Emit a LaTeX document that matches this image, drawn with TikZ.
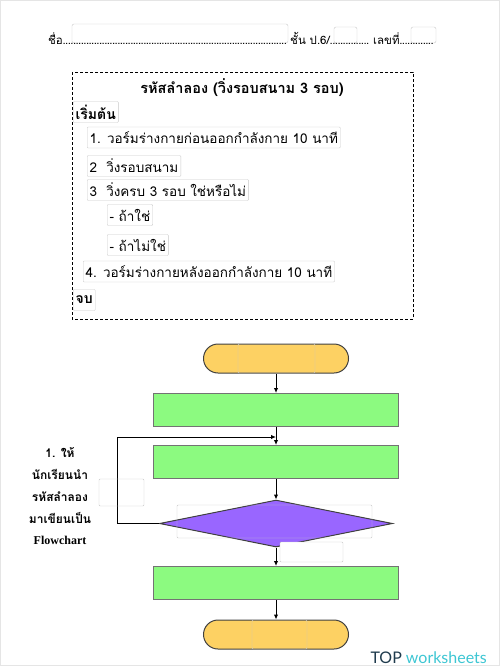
\documentclass[tikz,border=0pt]{standalone}
\usepackage{fontspec}
\setmainfont{Liberation Serif}
\newfontfamily\thai[Script=Thai]{Loma}
\newfontfamily\brand{Lato}
\usetikzlibrary{shapes.geometric,arrows.meta}

\definecolor{termyellow}{HTML}{FDD163}
\definecolor{procgreen}{HTML}{8CFA80}
\definecolor{decpurple}{HTML}{9966FF}
\definecolor{boxgray}{HTML}{C8C8C8}
\definecolor{topdark}{HTML}{1F3B4D}
\definecolor{topcyan}{HTML}{3EC6D3}

\newcommand{\dotrun}[1]{\makebox[#1]{\leaders\hbox to 2.6pt{\hss.\hss}\hfill}}

\tikzset{
  field/.style={draw=boxgray, rounded corners=2pt},
  item/.style={draw=boxgray, rounded corners=1pt, anchor=west, inner sep=2.5pt,
    minimum height=21pt, font=\thai\fontsize{13.5}{15}\selectfont},
  term/.style={draw=black!75, fill=termyellow, rounded corners=14.5pt,
    minimum width=145pt, minimum height=29pt, line width=1pt},
  proc/.style={draw=black!55, fill=procgreen, minimum width=245pt,
    minimum height=33pt, line width=1pt},
  dec/.style={diamond, draw=black!75, fill=decpurple, minimum width=233pt,
    minimum height=47pt, inner sep=0pt, line width=1pt},
  flow/.style={-{Latex[length=5pt,width=4.5pt]}, line width=1pt},
}

\begin{document}
\begin{tikzpicture}[x=1pt,y=-1pt]
\useasboundingbox (0,0) rectangle (500,666);
\draw[gray!20] (0.5,0.5) rectangle (499.5,665.5);

% header
\draw[field] (72,24) rectangle (288,43);
\draw[field] (334,27) rectangle (357,43);
\draw[field] (411,27) rectangle (436,43);
\node[anchor=base west, inner sep=0pt, font=\thai\fontsize{11.5}{13}\selectfont] (name) at (48,45) {ชื่อ\dotrun{224pt}};
\node[anchor=base west, inner sep=0pt, font=\thai\fontsize{11.5}{13}\selectfont] (class) at (290,45) {ชั้น ป.6/\dotrun{40pt}};
\node[anchor=base west, inner sep=0pt, font=\thai\fontsize{11.5}{13}\selectfont] (number) at (373,45) {เลขที่\dotrun{36pt}};

% pseudo code
\draw[dashed, dash pattern=on 3pt off 2pt, line width=0.9pt] (72,72) rectangle (413,319);
\node[font=\thai\bfseries\fontsize{14.5}{16}\selectfont] (title) at (242,88) {รหัสลำลอง (วิ่งรอบสนาม 3 รอบ)};
\node[item, font=\thai\bfseries\fontsize{14}{16}\selectfont] (begin) at (73,112) {เริ่มต้น};
\node[item] (s1) at (87,137.5) {1. วอร์มร่างกายก่อนออกกำลังกาย 10 นาที};
\node[item] (s2) at (87,166) {2\ \ วิ่งรอบสนาม};
\node[item] (s3) at (87,190) {3\ \ วิ่งครบ 3 รอบ ใช่หรือไม่};
\node[item] (yes) at (107,215) {- ถ้าใช่};
\node[item] (no) at (107,245) {- ถ้าไม่ใช่};
\node[item] (s4) at (83,271.5) {4. วอร์มร่างกายหลังออกกำลังกาย 10 นาที};
\node[item, font=\thai\bfseries\fontsize{14}{16}\selectfont] (end) at (73,300) {จบ};

% instruction
\node[align=center, font=\thai\bfseries\fontsize{12}{22}\selectfont] (task) at (60,486) {1. ให้\\นักเรียนนำ\\รหัสลำลอง\\มาเขียนเป็น};
\node[font=\bfseries\fontsize{12}{14}\selectfont] (fc) at (60,540) {Flowchart};

% flowchart
\node[term] (start) at (276,358.5) {};
\node[proc] (p1) at (276,410) {};
\node[proc] (p2) at (276,462) {};
\node[dec] (d) at (276,523.5) {};
\node[proc] (p3) at (276,583) {};
\node[term] (stop) at (276,634.5) {};
\coordinate (join) at (276,437);

\draw[flow] (start) -- (p1);
\draw[flow] (p1) -- (p2);
\draw[flow] (p2) -- (d);
\draw[flow] (d) -- (p3);
\draw[flow] (p3) -- (stop);
\draw[flow] (d.west) -- ++(-42,0) |- (join);

% answer fields
\draw[field, rounded corners=1pt] (238,344) rectangle (315,373);
\draw[field, rounded corners=1pt] (252,620) rectangle (307,649);
\draw[field, rounded corners=1pt] (177,505) rectangle (372,538);
\draw[field, rounded corners=1pt, fill=white] (280,542) rectangle (343,562);
\draw[field, rounded corners=1pt] (99,479) rectangle (144,506);

\node[anchor=base east, inner sep=0pt, font=\brand\fontsize{16}{18}\selectfont] (brand) at (487,663) {\textcolor{topdark}{TOP} \textcolor{topcyan}{worksheets}};
\end{tikzpicture}
\end{document}
